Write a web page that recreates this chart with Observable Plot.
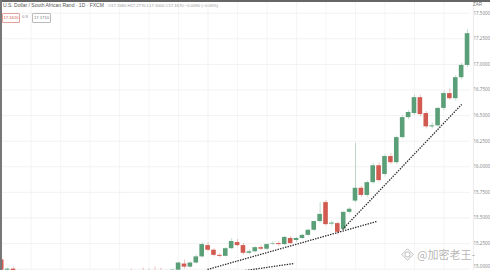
<!DOCTYPE html>
<html>
<head>
<meta charset="utf-8">
<script src="https://cdn.jsdelivr.net/npm/d3@7"></script>
<script src="https://cdn.jsdelivr.net/npm/@observablehq/plot@0.6"></script>
<style>
  html, body { margin: 0; padding: 0; background: #fff; }
  #wrap { position: relative; width: 490px; height: 270px; overflow: hidden; font-family: "Liberation Sans", Arial, sans-serif; }
  .hdr1 { position: absolute; left: 3px; top: 2px; font-size: 5px; color: #555; white-space: nowrap; }
  .hdr1 span { color: #9a9a9a; font-size: 4.2px; margin-left: 4px; }
  .box { position: absolute; top: 13px; height: 8px; font-size: 4.2px; line-height: 8px; text-align: center; border-radius: 1px; }
  .b1 { left: 2px; width: 16px; border: 0.8px solid #e3a39d; color: #d05a50; }
  .b2 { left: 32px; width: 17px; border: 0.8px solid #bbb; color: #777; }
  .mid { position: absolute; left: 22px; top: 13px; font-size: 4.2px; line-height: 8px; color: #888; }
  .edgeT { position: absolute; left: 0; top: 0; width: 490px; height: 1.5px; background: #666; }
  .edgeL { position: absolute; left: 0; top: 0; width: 1.5px; height: 270px; background: #777; }
  .wm { position: absolute; left: 401px; top: 246px; font-size: 11px; color: rgba(140,140,140,0.65); font-family: "Noto Sans CJK SC", sans-serif; white-space: nowrap; display: flex; align-items: center; }
  .zar { position: absolute; left: 473px; top: 2px; font-size: 4.5px; color: #777; }
</style>
</head>
<body>
<div id="wrap"></div>
<script>
// ---- data ----
const openP  = [15.09,14.99,15.00,14.98,14.92,14.88,14.91,14.85,14.80,14.83,14.76,14.72,14.77,14.75,14.70,14.74,14.79,14.77,14.84,14.86,
                14.84,14.90,14.95,14.93,14.96,14.94,14.98,14.97,14.95,14.93,14.99,15.05,15.02,15.06,15.12,15.23,15.185,15.135,15.125,15.20,
                15.26,15.23,15.155,15.17,15.21,15.195,15.245,15.25,15.24,15.30,15.28,15.30,15.33,15.38,15.465,15.65,15.44,15.445,15.39,15.555,
                15.665,15.79,15.72,15.845,16.01,15.925,16.10,16.04,16.285,16.48,16.52,16.675,16.52,16.39,16.40,16.57,16.715,16.665,16.87,16.99];
const highP  = [15.11,15.01,15.02,14.99,14.95,14.93,14.94,14.87,14.84,14.85,14.79,14.78,14.80,14.77,14.76,14.80,14.82,14.85,14.88,14.90,
                14.91,14.98,15.00,14.97,15.01,15.00,15.02,15.01,14.99,15.00,15.07,15.09,15.07,15.14,15.26,15.26,15.20,15.15,15.21,15.30,
                15.29,15.25,15.19,15.22,15.23,15.25,15.27,15.27,15.32,15.32,15.31,15.34,15.39,15.47,15.65,15.67,15.47,15.46,15.56,15.60,
                16.23,15.81,15.86,16.03,16.04,16.12,16.13,16.30,16.50,16.55,16.70,16.70,16.54,16.43,16.58,16.74,16.76,16.89,17.01,17.34];
const lowP   = [14.97,14.96,14.97,14.90,14.86,14.86,14.83,14.78,14.77,14.74,14.70,14.70,14.73,14.68,14.69,14.72,14.75,14.76,14.81,14.82,
                14.83,14.88,14.91,14.89,14.93,14.92,14.94,14.93,14.90,14.92,14.98,15.00,15.01,15.05,15.11,15.17,15.12,15.11,15.12,15.19,
                15.22,15.14,15.14,15.16,15.18,15.18,15.23,15.22,15.23,15.24,15.26,15.29,15.32,15.37,15.45,15.42,15.42,15.33,15.38,15.54,
                15.65,15.70,15.70,15.83,15.85,15.90,16.02,16.02,16.27,16.46,16.50,16.49,16.37,16.37,16.38,16.55,16.65,16.64,16.85,16.97];
const closeP = [14.99,15.00,14.98,14.92,14.88,14.91,14.85,14.80,14.83,14.76,14.72,14.77,14.75,14.70,14.74,14.79,14.77,14.84,14.86,14.84,
                14.90,14.95,14.93,14.96,14.94,14.98,14.97,14.95,14.93,14.99,15.06,15.02,15.06,15.12,15.24,15.185,15.135,15.125,15.20,15.27,
                15.23,15.155,15.17,15.21,15.195,15.24,15.25,15.24,15.31,15.25,15.30,15.33,15.38,15.465,15.535,15.435,15.45,15.36,15.555,15.585,
                15.79,15.72,15.845,16.01,15.865,16.10,16.04,16.285,16.48,16.53,16.675,16.51,16.39,16.40,16.57,16.715,16.665,16.87,16.99,17.30];

const yTicks = [15.0,15.25,15.5,15.75,16.0,16.25,16.5,16.75,17.0,17.25,17.5];
const weekGrid = [5,10,15,20,25,30,35,40,45,50,55,60,65,70,75];

// trendlines: [startIndex, startValue, endIndex, endValue]
const trendStartI = [34.9, 57.8, 41.35];
const trendStartV = [14.997, 15.388, 14.987];
const trendEndI   = [63.6, 78.0, 49.65];
const trendEndV   = [15.466, 16.609, 15.056];

// ---- build ----
const candles = openP.map((o, i) => ({i, o, h: highP[i], l: lowP[i], c: closeP[i], up: closeP[i] >= o}));
const trends = trendStartI.map((x1, k) => ({x1, y1: trendStartV[k], x2: trendEndI[k], y2: trendEndV[k]}));
const GREEN = "#5a9f78", RED = "#d15b50";
const col = d => d.up ? GREEN : RED;
const fmt = d => d.toFixed(4);

const chart = Plot.plot({
  width: 490, height: 270,
  marginTop: 0, marginBottom: 0, marginLeft: 0, marginRight: 20,
  x: {type: "linear", domain: [-0.2, 79.5], axis: null},
  y: {domain: [14.987, 17.624], axis: null},
  style: {background: "#fff"},
  marks: [
    Plot.gridY(yTicks, {stroke: "#ececec", strokeOpacity: 1, strokeWidth: 0.7}),
    Plot.gridX(weekGrid, {stroke: "#f0f0f0", strokeOpacity: 1, strokeWidth: 0.7}),
    Plot.ruleX([80], {stroke: "#e4e4e4", strokeWidth: 0.7}),
    Plot.axisY(yTicks.slice(1), {anchor: "right", tickSize: 0, tickPadding: 3, fontSize: 4.5, fill: "#8a8a8a", tickFormat: fmt}),
    Plot.axisY(yTicks.slice(0, 1), {anchor: "right", tickSize: 0, tickPadding: 3, fontSize: 4.5, fill: "#8a8a8a", tickFormat: fmt, dy: -2.5}),
    Plot.ruleX(candles, {x: "i", y1: "l", y2: "h", stroke: col, strokeOpacity: 0.45, strokeWidth: 0.8, clip: true}),
    Plot.rect(candles, {x1: d => d.i - 0.39, x2: d => d.i + 0.39, y1: d => Math.min(d.o, d.c), y2: d => Math.max(d.o, d.c), fill: col, clip: true}),
    Plot.link(trends, {x1: "x1", y1: "y1", x2: "x2", y2: "y2", stroke: "#2a2a2a", strokeWidth: 1.3, strokeDasharray: "1.4,1.2", clip: true})
  ]
});

const wrap = document.getElementById("wrap");
wrap.appendChild(chart);
wrap.insertAdjacentHTML("beforeend", `
  <div class="edgeT"></div><div class="edgeL"></div>
  <div class="hdr1">U.S. Dollar / South African Rand · 1D · FXCM<span>O17.1580 H17.2770 L17.1000 C17.1670 −0.0090 (−0.05%)</span></div>
  <div class="box b1">17.1620</div><div class="mid">0.9</div><div class="box b2">17.1710</div>
  <div class="zar">ZAR</div>
  <div class="wm"><svg width="13" height="13" viewBox="0 0 13 13" style="margin-right:3px"><path d="M6.5 0.8 L12.2 6.5 L6.5 12.2 L0.8 6.5 Z" fill="none" stroke="rgba(140,140,140,0.65)" stroke-width="0.9"/><circle cx="6.5" cy="6.5" r="2.6" fill="none" stroke="rgba(140,140,140,0.65)" stroke-width="0.9"/></svg>@加密老王-</div>
`);
</script>
</body>
</html>
